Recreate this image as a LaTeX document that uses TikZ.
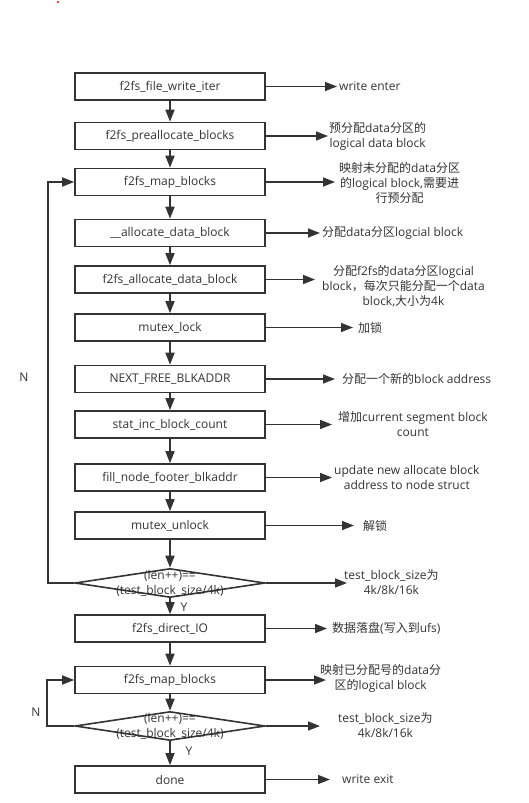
\documentclass[tikz,border=0pt]{standalone}
\usepackage{fontspec}
\setmainfont{Open Sans}
\newfontfamily\cjk{Noto Sans CJK SC}
\usepackage{xcolor}
\usepackage{tikz}
\usetikzlibrary{shapes.geometric,arrows.meta}
\definecolor{ink}{HTML}{333333}

\begin{document}
\begin{tikzpicture}[x=1pt,y=-1pt,
    every node/.style={text=ink,font=\fontsize{12}{15}\selectfont,align=center},
    func/.style={draw=ink,line width=1.6pt,shape=rectangle,minimum width=190pt,minimum height=27pt,inner sep=0pt},
    test/.style={draw=ink,line width=1.6pt,shape=diamond,minimum width=190pt,minimum height=29pt,inner sep=0pt,label={center:#1}},
    note/.style={anchor=west,inner sep=0pt},
    flow/.style={draw=ink,line width=1.6pt,-{Triangle[length=12pt,width=9pt]}}]
\useasboundingbox (0,0) rectangle (528,803);
\fill[red] (58,2) circle (1.2);

\node[func] (f1) at (170,86.5) {f2fs\_file\_write\_iter};
\node[func] (f2) at (170,136) {f2fs\_preallocate\_blocks};
\node[func] (f3) at (170,182) {f2fs\_map\_blocks};
\node[func] (f4) at (170,233) {\_\_allocate\_data\_block};
\node[func] (f5) at (170,279.5) {f2fs\_allocate\_data\_block};
\node[func] (f6) at (170,327.5) {mutex\_lock};
\node[func] (f7) at (170,379) {NEXT\_FREE\_BLKADDR};
\node[func] (f8) at (170,424.5) {stat\_inc\_block\_count};
\node[func] (f9) at (170,477.5) {fill\_node\_footer\_blkaddr};
\node[func] (f10) at (170,525.5) {mutex\_unlock};
\node[test={(len++)==\\(test\_block\_size/4k)}] (d1) at (170,583) {};
\node[func] (f11) at (170,628.5) {f2fs\_direct\_IO};
\node[func] (f12) at (170,680) {f2fs\_map\_blocks};
\node[test={(len++)==\\(test\_block\_size/4k)}] (d2) at (170,726) {};
\node[func] (f13) at (170,779.5) {done};

\node[note] (n1) at (339,86.5) {write enter};
\node[note] (n2) at (329,136.5) {{\cjk 预分配}data{\cjk 分区的}\\logical data block};
\node[note] (n3) at (339,183) {{\cjk 映射未分配的}data{\cjk 分区}\\{\cjk 的}logical block,{\cjk 需要进}\\{\cjk 行预分配}};
\node[note] (n4) at (322,233) {{\cjk 分配}data{\cjk 分区}logcial block};
\node[note] (n5) at (322,286) {{\cjk 分配}f2fs{\cjk 的}data{\cjk 分区}logcial\\block{\cjk ，每次只能分配一个}data\\block,{\cjk 大小为}4k};
\node[note] (n6) at (358,327.5) {{\cjk 加锁}};
\node[note] (n7) at (342,379) {{\cjk 分配一个新的}block address};
\node[note] (n8) at (338,424.5) {{\cjk 增加}current segment block\\count};
\node[note] (n9) at (334,477) {update new allocate block\\address to node struct};
\node[note] (n10) at (363,525.5) {{\cjk 解锁}};
\node[note] (n11) at (344,582) {test\_block\_size{\cjk 为}\\4k/8k/16k};
\node[note] (n12) at (332,628.5) {{\cjk 数据落盘}({\cjk 写入到}ufs)};
\node[note] (n13) at (320,678.5) {{\cjk 映射已分配号的}data{\cjk 分}\\{\cjk 区的}logical block};
\node[note] (n14) at (338,725) {test\_block\_size{\cjk 为}\\4k/8k/16k};
\node[note] (n15) at (342,779.5) {write exit};

\node (y1) at (184,607) {Y};
\node (y2) at (189,751) {Y};
\node (no1) at (24,377) {N};
\node (no2) at (36,712) {N};

\coordinate (lp1) at (48,583);
\coordinate (lp2) at (47,726);

\draw[flow] (f1) -- (f2);
\draw[flow] (f2) -- (f3);
\draw[flow] (f3) -- (f4);
\draw[flow] (f4) -- (f5);
\draw[flow] (f5) -- (f6);
\draw[flow] (f6) -- (f7);
\draw[flow] (f7) -- (f8);
\draw[flow] (f8) -- (f9);
\draw[flow] (f9) -- (f10);
\draw[flow] (f10) -- (d1);
\draw[flow] (d1) -- (f11);
\draw[flow] (f11) -- (f12);
\draw[flow] (f12) -- (d2);
\draw[flow] (d2) -- (f13);
\draw[flow] (d1.west) -- (lp1) |- (f3.west);
\draw[flow] (d2.west) -- (lp2) |- (f12.west);

\draw[flow,shorten >=2pt] (f1) -- (f1 -| n1.west);
\draw[flow,shorten >=1pt] (f2) -- (f2 -| n2.west);
\draw[flow,shorten >=4pt] (f3) -- (f3 -| n3.west);
\draw[flow,shorten >=2pt] (f4) -- (f4 -| n4.west);
\draw[flow,shorten >=7pt] (f5) -- (f5 -| n5.west);
\draw[flow,shorten >=5pt] (f6) -- (f6 -| n6.west);
\draw[flow,shorten >=7pt] (f7) -- (f7 -| n7.west);
\draw[flow,shorten >=6pt] (f8) -- (f8 -| n8.west);
\draw[flow,shorten >=2pt] (f9) -- (f9 -| n9.west);
\draw[flow,shorten >=9pt] (f10) -- (f10 -| n10.west);
\draw[flow,shorten >=-3pt] (d1.east) -- (d1.east -| n11.west);
\draw[flow,shorten >=5pt] (f11) -- (f11 -| n12.west);
\draw[flow,shorten >=-6pt] (f12) -- (f12 -| n13.west);
\draw[flow,shorten >=18pt] (d2.east) -- (d2.east -| n14.west);
\draw[flow,shorten >=12pt] (f13) -- (f13 -| n15.west);
\end{tikzpicture}
\end{document}
